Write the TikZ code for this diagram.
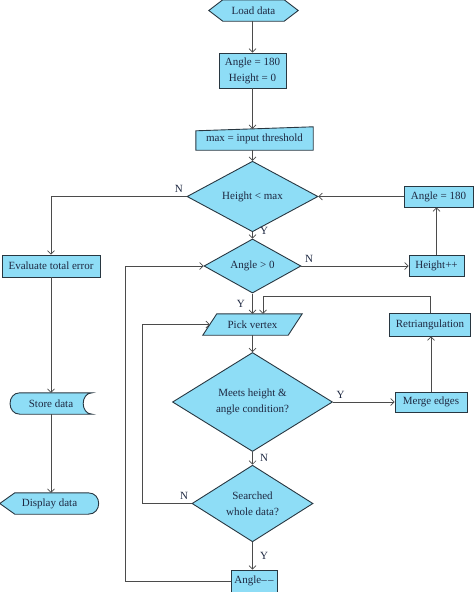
\documentclass[tikz,border=0pt]{standalone}
\usepackage{fontspec}
\setmainfont{Liberation Serif}
\usetikzlibrary{shapes.geometric,calc,backgrounds,arrows.meta}
\definecolor{boxfill}{RGB}{142,221,246}
\definecolor{boxline}{RGB}{40,55,65}
\definecolor{wire}{RGB}{75,75,75}
\definecolor{ink}{RGB}{30,40,65}
\tikzset{
  base/.style={font=\fontsize{11}{16}\selectfont, text=ink, inner sep=0pt, align=center},
  proc/.style={base, rectangle, draw=boxline, fill=boxfill, line width=0.9pt, minimum height=21pt},
  cond/.style={base, diamond, draw=boxline, fill=boxfill, line width=0.9pt},
  free/.style={base, rectangle, minimum height=21pt},
  outline/.style={draw=boxline, fill=boxfill, line width=0.9pt},
  flow/.style={draw=wire, line width=0.7pt, -{Straight Barb[length=3.5pt,width=7pt]}},
  lbl/.style={font=\fontsize{11}{12}\selectfont, text=ink}
}

\begin{document}
\begin{tikzpicture}[x=1pt,y=-1pt]
    \useasboundingbox (0,0) rectangle (474,592);
    % main column
    \node[free, minimum width=89pt] (load) at (253.5,10.5) {Load data};
    \node[proc, minimum width=67pt, minimum height=35pt] (init) at (252.5,70.5) {Angle = 180\\Height = 0};
    \node[free, minimum width=117pt, minimum height=23pt] (thr) at (254.5,138.5) {max = input threshold};
    \node[cond, minimum width=131pt, minimum height=34pt] (hmax) at (252.5,196.5) {Height < max};
    \node[cond, minimum width=97pt, minimum height=34pt] (agt) at (252.5,266) {Angle > 0};
    \node[free, minimum width=99pt] (pick) at (252.5,324.5) {Pick vertex};
    \node[cond, minimum width=160pt, minimum height=60pt] (meets) at (252.5,402) {Meets height \&\\angle condition?};
    \node[cond, minimum width=121pt, minimum height=62pt] (search) at (252.5,503.5) {Searched\\whole data?};
    \node[proc, minimum width=46pt, minimum height=22pt] (dec) at (254,581) {Angle\textendash\kern1.3pt\textendash};
    % right column
    \node[proc, minimum width=69pt] (a180) at (438.5,196.5) {Angle = 180};
    \node[proc, minimum width=55pt] (hpp) at (436.5,266) {Height++};
    \node[proc, minimum width=81pt, minimum height=23pt] (retri) at (430,324.5) {Retriangulation};
    \node[proc, minimum width=72pt, minimum height=20pt] (merge) at (431,402) {Merge edges};
    % left column
    \node[proc, minimum width=98pt, minimum height=22pt] (eval) at (51,266) {Evaluate total error};
    \node[free, minimum width=82pt] (store) at (51,403.5) {Store data};
    \node[free, minimum width=99pt] (display) at (49.5,503.5) {Display data};

    \begin{scope}[on background layer]
        \draw[outline] (load.west) -- ($(load.north west)+(14,0)$) -- ($(load.north east)+(-14,0)$) -- (load.east)
            -- ($(load.south east)+(-14,0)$) -- ($(load.south west)+(14,0)$) -- cycle;
        \draw[outline] ($(thr.north west)+(0,4)$) -- (thr.north east) -- (thr.south east) -- (thr.south west) -- cycle;
        \draw[outline] (pick.south west) -- ($(pick.north west)+(14,0)$) -- (pick.north east) -- ($(pick.south east)+(-14,0)$) -- cycle;
        \draw[outline] ($(store.north west)+(10,0)$) .. controls ($(store.north west)+(-3,0)$) and ($(store.south west)+(-3,0)$) .. ($(store.south west)+(10,0)$)
            -- (store.south east) .. controls ($(store.south east)+(-12,0)$) and ($(store.north east)+(-12,0)$) .. (store.north east) -- cycle;
        \draw[outline] (display.west) -- ($(display.north west)+(15,0)$) -- ($(display.north east)+(-11,0)$)
            .. controls ($(display.north east)+(3,0)$) and ($(display.south east)+(3,0)$) .. ($(display.south east)+(-11,0)$)
            -- ($(display.south west)+(15,0)$) -- cycle;
    \end{scope}

    % connectors
    \draw[flow] (load.south -| init.north) -- (init.north);
    \draw[flow] (init.south) -- ($(init.south |- thr.north)+(0,2)$);
    \draw[flow] (init.south |- thr.south) -- (hmax.north);
    \draw[flow] (a180) -- (hmax);
    \draw[flow] (hmax.west) -| (eval.north) node[lbl, pos=0, above left] {N};
    \draw[flow] (hmax) -- (agt) node[lbl, midway, right=4pt, yshift=4pt] {Y};
    \draw[flow] (agt) -- (hpp) node[lbl, pos=0, above right] {N};
    \draw[flow] (hpp.north) -- (hpp.north |- a180.south);
    \draw[flow] (agt) -- (pick) node[lbl, midway, left=4pt] {Y};
    \draw[flow] (pick) -- (meets);
    \draw[flow] (meets) -- (merge) node[lbl, pos=0, above right] {Y};
    \draw[flow] (merge.north) -- (merge.north |- retri.south);
    \draw[flow] (retri.north) -- ++(0,-16) -| ($(pick.north)+(10.5,0)$);
    \draw[flow] (meets) -- (search) node[lbl, midway, right=4pt] {N};
    \draw[flow] (search.west) -- ++(-49,0) |- ($(pick.west)+(7,0)$);
    \node[lbl, above left] at (search.west) {N};
    \draw[flow] (search.south) -- (search.south |- dec.north) node[lbl, midway, right=4pt] {Y};
    \draw[flow] (dec.west) -- ++(-105,0) |- (agt.west);
    \draw[flow] (eval) -- (store);
    \draw[flow] (store.south) -- (store.south |- display.north);
\end{tikzpicture}
\end{document}
